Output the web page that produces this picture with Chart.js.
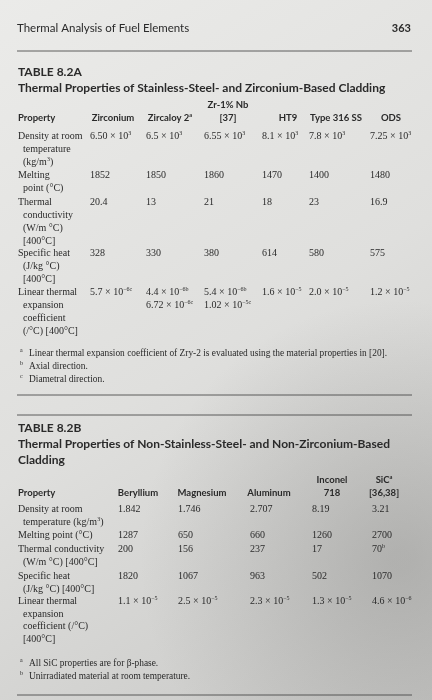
<!DOCTYPE html>
<html>
<head>
<meta charset="utf-8">
<script src="https://cdn.jsdelivr.net/npm/chart.js@4"></script>
<style>
  html, body { margin: 0; padding: 0; background: #dcdcda; }
  canvas { display: block; }
</style>
</head>
<body>
<canvas id="chart" width="432" height="700"></canvas>
<script>
// Table data
const tableATitle = ["TABLE 8.2A", "Thermal Properties of Stainless-Steel- and Zirconium-Based Cladding"];
const tableAColumns = ["Zirconium", "Zircaloy 2^{a}", "Zr-1% Nb|[37]", "HT9", "Type 316 SS", "ODS"];
const tableAProperties = [
  ["Density at room", " temperature", " (kg/m^{3})"],
  ["Melting", " point (°C)"],
  ["Thermal", " conductivity", " (W/m °C)", " [400°C]"],
  ["Specific heat", " (J/kg °C)", " [400°C]"],
  ["Linear thermal", " expansion", " coefficient", " (/°C) [400°C]"]
];
const tableADensity = ["6.50 × 10^{3}", "6.5 × 10^{3}", "6.55 × 10^{3}", "8.1 × 10^{3}", "7.8 × 10^{3}", "7.25 × 10^{3}"];
const tableAMelting = ["1852", "1850", "1860", "1470", "1400", "1480"];
const tableAConductivity = ["20.4", "13", "21", "18", "23", "16.9"];
const tableASpecificHeat = ["328", "330", "380", "614", "580", "575"];
const tableAExpansion = ["5.7 × 10^{−6c}", "4.4 × 10^{−6b}|6.72 × 10^{−6c}", "5.4 × 10^{−6b}|1.02 × 10^{−5c}", "1.6 × 10^{−5}", "2.0 × 10^{−5}", "1.2 × 10^{−5}"];
const tableANotes = [
  ["a", "Linear thermal expansion coefficient of Zry-2 is evaluated using the material properties in [20]."],
  ["b", "Axial direction."],
  ["c", "Diametral direction."]
];

const tableBTitle = ["TABLE 8.2B", "Thermal Properties of Non-Stainless-Steel- and Non-Zirconium-Based", "Cladding"];
const tableBColumns = ["Beryllium", "Magnesium", "Aluminum", "Inconel|718", "SiC^{a}|[36,38]"];
const tableBProperties = [
  ["Density at room", " temperature (kg/m^{3})"],
  ["Melting point (°C)"],
  ["Thermal conductivity", " (W/m °C) [400°C]"],
  ["Specific heat", " (J/kg °C) [400°C]"],
  ["Linear thermal", " expansion", " coefficient (/°C)", " [400°C]"]
];
const tableBDensity = ["1.842", "1.746", "2.707", "8.19", "3.21"];
const tableBMelting = ["1287", "650", "660", "1260", "2700"];
const tableBConductivity = ["200", "156", "237", "17", "70^{b}"];
const tableBSpecificHeat = ["1820", "1067", "963", "502", "1070"];
const tableBExpansion = ["1.1 × 10^{−5}", "2.5 × 10^{−5}", "2.3 × 10^{−5}", "1.3 × 10^{−5}", "4.6 × 10^{−6}"];
const tableBNotes = [
  ["a", "All SiC properties are for β-phase."],
  ["b", "Unirradiated material at room temperature."]
];

const SERIF = '"Liberation Serif", "DejaVu Serif", serif';
const SANS = 'Lato, "Open Sans", sans-serif';
const INK = "#2a2a2a";
const BODY = 10;

// draw text with ^{...} superscripts; align = left | center | right
function richText(ctx, str, x, y, size, family, weight, align) {
  const parts = [];
  str.replace(/([^^]+)|\^\{([^}]*)\}/g, (m, plain, sup) => {
    if (plain) parts.push([plain, false]);
    else parts.push([sup, true]);
  });
  const measure = p => {
    ctx.font = `${weight} ${p[1] ? size * 0.6 : size}px ${family}`;
    return ctx.measureText(p[0]).width;
  };
  const total = parts.reduce((s, p) => s + measure(p), 0);
  let cx = align === "center" ? x - total / 2 : align === "right" ? x - total : x;
  for (const p of parts) {
    const w = measure(p);
    ctx.fillText(p[0], cx, p[1] ? y - size * 0.4 : y);
    cx += w;
  }
}

function drawRows(ctx, props, rows, colX, rowY, lineH, propX) {
  ctx.fillStyle = INK;
  props.forEach((lines, i) => {
    lines.forEach((l, k) => {
      const indent = l.startsWith(" ") ? 5 : 0;
      richText(ctx, l.trim(), propX + indent, rowY[i] + k * lineH, BODY, SERIF, "normal", "left");
    });
    rows[i].forEach((v, j) => {
      v.split("|").forEach((l, k) => {
        richText(ctx, l, colX[j], rowY[i] + k * lineH, BODY, SERIF, "normal", "left");
      });
    });
  });
}

function drawHeaders(ctx, cols, colCenter, y, lineH) {
  ctx.fillStyle = INK;
  cols.forEach((c, j) => {
    const lines = c.split("|");
    lines.forEach((l, k) => {
      richText(ctx, l, colCenter[j], y - (lines.length - 1 - k) * lineH, 9.5, SANS, "bold", "center");
    });
  });
}

function drawNotes(ctx, notes, x, y, lineH) {
  ctx.fillStyle = INK;
  notes.forEach((n, i) => {
    ctx.font = `normal 6px ${SERIF}`;
    ctx.fillText(n[0], x, y + i * lineH - 4);
    ctx.font = `normal 9.4px ${SERIF}`;
    ctx.fillText(n[1], x + 9, y + i * lineH);
  });
}

function rule(ctx, x1, x2, y) {
  ctx.strokeStyle = "#3a3a3a";
  ctx.lineWidth = 0.8;
  ctx.beginPath();
  ctx.moveTo(x1, y);
  ctx.lineTo(x2, y);
  ctx.stroke();
}

const pagePlugin = {
  id: "page",
  beforeDraw(chart) {
    const ctx = chart.ctx;
    const g = ctx.createLinearGradient(0, 0, 432, 700);
    g.addColorStop(0, "#ebebe9");
    g.addColorStop(0.5, "#dfdfdd");
    g.addColorStop(1, "#c8c8c6");
    ctx.fillStyle = g;
    ctx.fillRect(0, 0, 432, 700);
    const r = ctx.createRadialGradient(400, 560, 10, 400, 560, 260);
    r.addColorStop(0, "rgba(120,120,118,0.35)");
    r.addColorStop(1, "rgba(120,120,118,0)");
    ctx.fillStyle = r;
    ctx.fillRect(0, 0, 432, 700);
  },
  afterDraw(chart) {
    const ctx = chart.ctx;
    ctx.save();
    ctx.textBaseline = "alphabetic";

    // running head
    ctx.fillStyle = INK;
    ctx.font = `normal 11.5px ${SANS}`;
    ctx.fillText("Thermal Analysis of Fuel Elements", 17, 32);
    ctx.font = `bold 11px ${SANS}`;
    ctx.textAlign = "right";
    ctx.fillText("363", 411, 32);
    ctx.textAlign = "left";
    rule(ctx, 17, 412, 51);

    // table A
    ctx.font = `bold 12px ${SANS}`;
    ctx.fillText(tableATitle[0], 18, 76);
    ctx.fillText(tableATitle[1], 18, 92);
    const aCenters = [113, 170, 228, 288, 336, 391];
    const aCols = [90, 146, 204, 262, 309, 370];
    ctx.font = `bold 9.5px ${SANS}`;
    ctx.fillText("Property", 18, 121);
    drawHeaders(ctx, tableAColumns, aCenters, 121, 13);
    drawRows(ctx, tableAProperties,
      [tableADensity, tableAMelting, tableAConductivity, tableASpecificHeat, tableAExpansion],
      aCols, [139, 178, 205, 256, 295], 13, 18);
    drawNotes(ctx, tableANotes, 20, 356, 13);
    rule(ctx, 17, 412, 395);
    rule(ctx, 17, 412, 415);

    // table B
    ctx.font = `bold 12px ${SANS}`;
    ctx.fillStyle = INK;
    tableBTitle.forEach((t, i) => ctx.fillText(t, 18, 432 + i * 16));
    const bCenters = [138, 202, 269, 332, 384];
    const bCols = [118, 178, 250, 312, 372];
    ctx.font = `bold 9.5px ${SANS}`;
    ctx.fillText("Property", 18, 496);
    drawHeaders(ctx, tableBColumns, bCenters, 496, 13);
    drawRows(ctx, tableBProperties,
      [tableBDensity, tableBMelting, tableBConductivity, tableBSpecificHeat, tableBExpansion],
      bCols, [512, 538, 552, 579, 604], 12.5, 18);
    drawNotes(ctx, tableBNotes, 20, 666, 13);
    rule(ctx, 17, 412, 695);
    ctx.restore();
  }
};

new Chart(document.getElementById("chart"), {
  type: "bar",
  data: { labels: [], datasets: [] },
  options: {
    responsive: false,
    animation: false,
    devicePixelRatio: 1,
    layout: { padding: 0 },
    plugins: { legend: { display: false }, tooltip: { enabled: false } },
    scales: { x: { display: false }, y: { display: false } }
  },
  plugins: [pagePlugin]
});
</script>
</body>
</html>
